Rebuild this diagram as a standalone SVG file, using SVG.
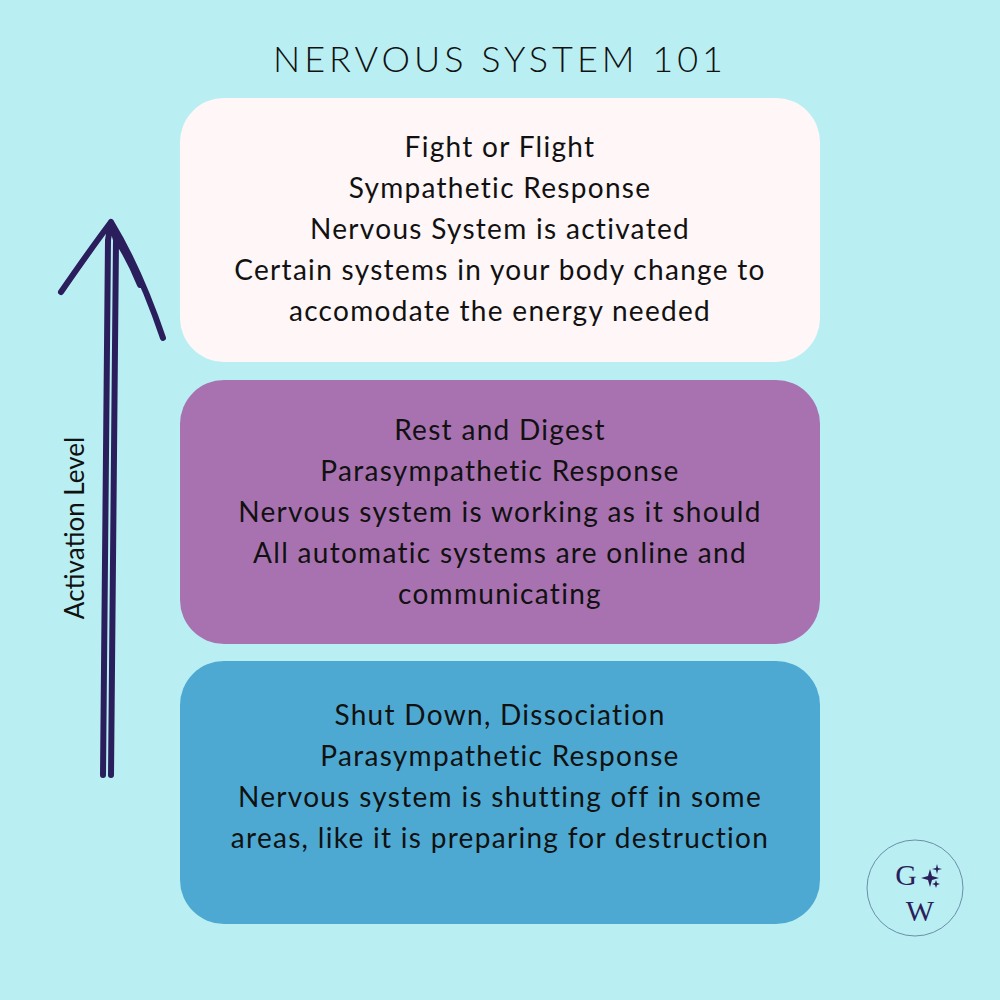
<svg xmlns="http://www.w3.org/2000/svg" width="1000" height="1000" viewBox="0 0 1000 1000">
<style>
.t{font-family:Lato,"Liberation Sans",sans-serif;font-size:28px;letter-spacing:1.3px;fill:#111;text-anchor:middle}
.a{fill:none;stroke:#2a1f5c;stroke-width:6;stroke-linecap:round;stroke-linejoin:round}
</style>
<rect width="1000" height="1000" fill="#b9eff2"/>
<text x="500" y="72" font-family="Lato,'Liberation Sans',sans-serif" font-weight="300" font-size="36" letter-spacing="4" text-anchor="middle" fill="#111">NERVOUS SYSTEM 101</text>
<g id="box1"><rect x="180" y="98" width="640" height="264" rx="44" fill="#fff6f8"/>
<text class="t" x="500" y="157">Fight or Flight</text><text class="t" x="500" y="198">Sympathetic Response</text><text class="t" x="500" y="239">Nervous System is activated</text><text class="t" x="500" y="280">Certain systems in your body change to</text><text class="t" x="500" y="321">accomodate the energy needed</text></g>
<g id="box2"><rect x="180" y="380" width="640" height="264" rx="44" fill="#a872b0"/>
<text class="t" x="500" y="440">Rest and Digest</text><text class="t" x="500" y="481">Parasympathetic Response</text><text class="t" x="500" y="522">Nervous system is working as it should</text><text class="t" x="500" y="563">All automatic systems are online and</text><text class="t" x="500" y="604">communicating</text></g>
<g id="box3"><rect x="180" y="661" width="640" height="263" rx="44" fill="#4da9d2"/>
<text class="t" x="500" y="725">Shut Down, Dissociation</text><text class="t" x="500" y="766">Parasympathetic Response</text><text class="t" x="500" y="807">Nervous system is shutting off in some</text><text class="t" x="500" y="848">areas, like it is preparing for destruction</text></g>
<g id="connectors">
<path class="a" d="M103 775 L108 240 L111 222 M111 775 L116 240 L111 222 M61 292 Q90 250 111 222 Q140 270 163 338 M117 240 Q130 260 140 285"/>
</g>
<text transform="translate(84 528) rotate(-90)" font-family="Lato,'Liberation Sans',sans-serif" font-size="26" text-anchor="middle" fill="#111">Activation Level</text>
<g id="logo"><circle cx="915" cy="888" r="48" fill="none" stroke="#6a8fa8" stroke-width="1"/>
<text x="906" y="885" font-family="'Liberation Serif',serif" font-size="30" fill="#2a1f5c" text-anchor="middle">G</text>
<text x="920" y="921" font-family="'Liberation Serif',serif" font-size="30" fill="#2a1f5c" text-anchor="middle">W</text>
<path d="M930 869 L932 876 L939 878 L932 880 L930 887 L928 880 L921 878 L928 876Z M937 864 L938 868 L942 869 L938 870 L937 874 L936 870 L932 869 L936 868Z M936 880 L937 883 L940 884 L937 885 L936 888 L935 885 L932 884 L935 883Z" fill="#2a1f5c"/></g>
</svg>
